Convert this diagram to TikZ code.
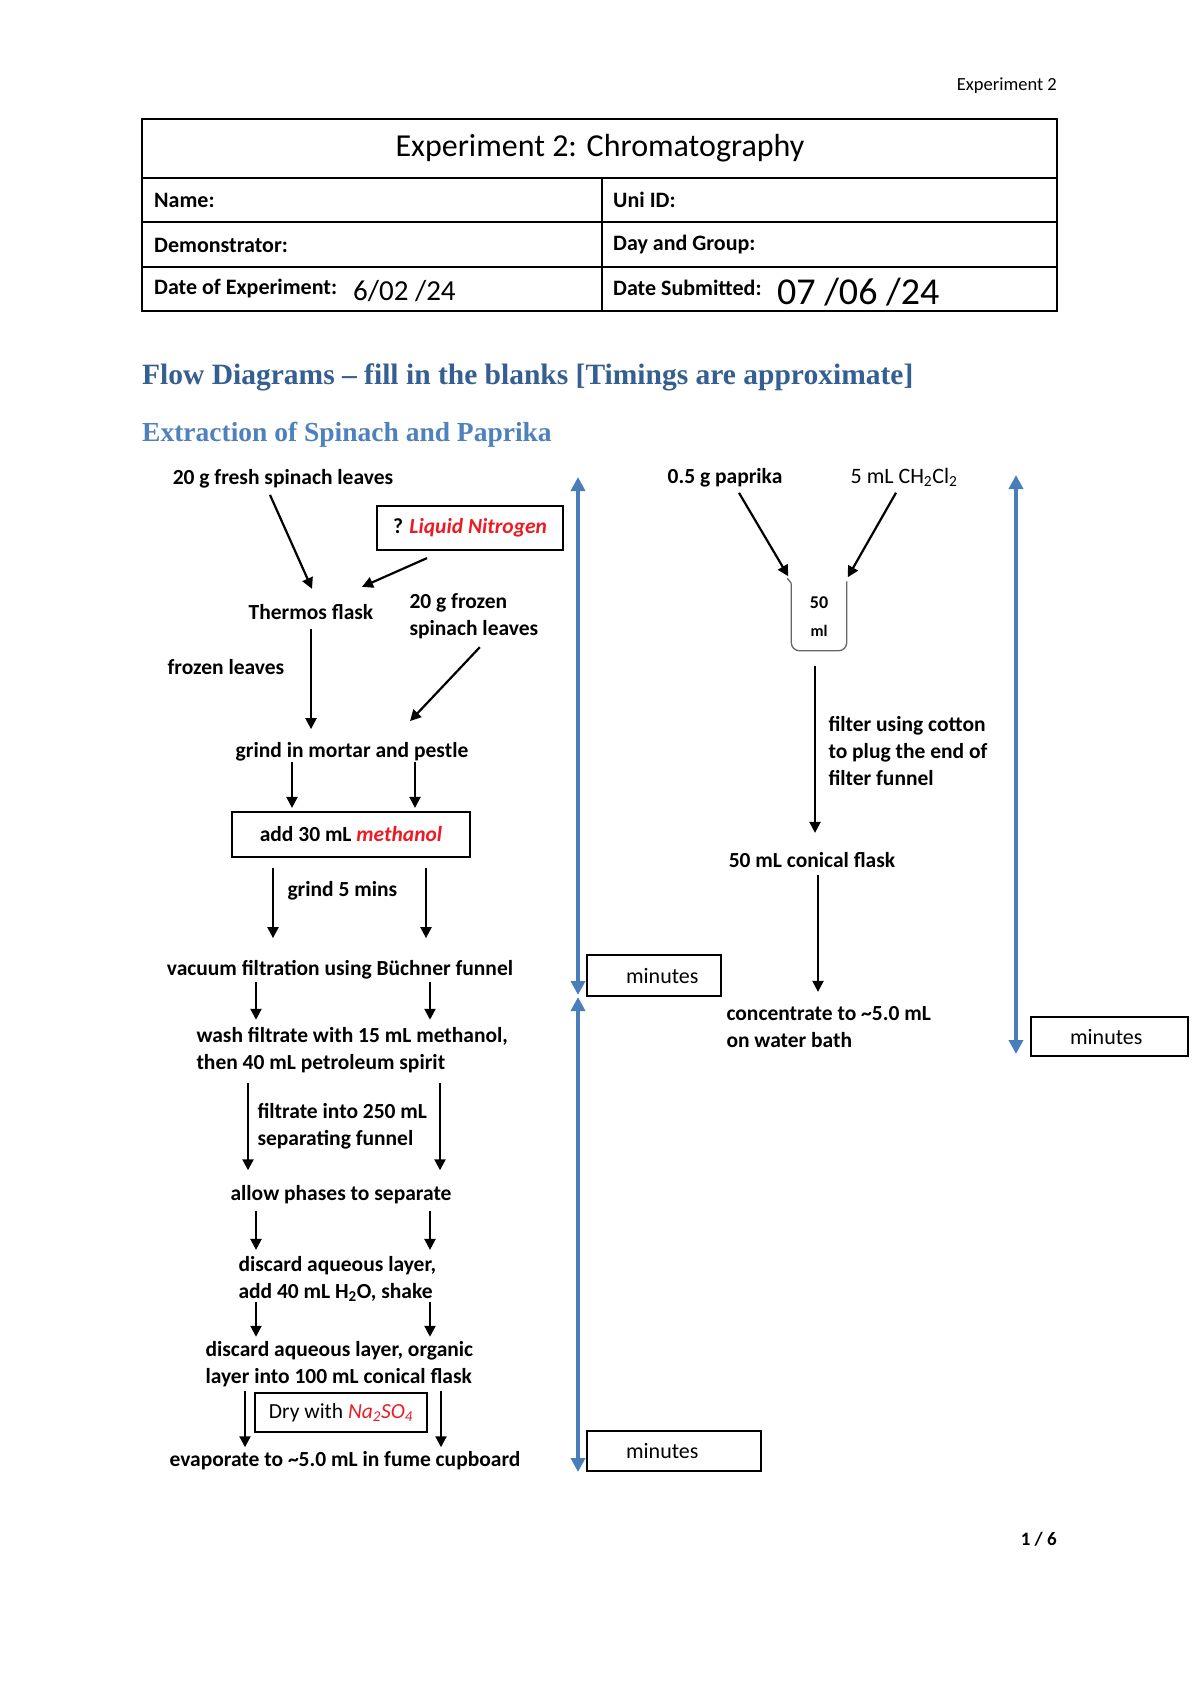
\documentclass[tikz,border=0pt]{standalone}
\usepackage{fontspec}
\setmainfont{Carlito}
\newfontfamily\headfont{Liberation Serif}
\usetikzlibrary{arrows.meta, positioning}

\definecolor{headblue}{RGB}{54,95,145}
\definecolor{subblue}{RGB}{79,129,189}
\definecolor{timeblue}{RGB}{74,126,187}
\definecolor{inkred}{RGB}{237,28,36}
\newcommand{\fsz}[2]{\fontsize{#1}{#2}\selectfont}
\newcommand{\inkword}[1]{{\color{inkred}\itshape #1}}

\begin{document}
\begin{tikzpicture}[x=1pt, y=-1pt,
    flow/.style={font=\fsz{21.5}{27}\bfseries, inner sep=0.3pt, align=center},
    flowl/.style={flow, align=left, anchor=west},
    arr/.style={-{Triangle[length=11pt,width=11pt]}, line width=2.2pt},
    timeline/.style={{Triangle[length=14pt,width=14pt]}-{Triangle[length=14pt,width=14pt]}, line width=4.5pt, draw=timeblue},
    stepbox/.style={draw, line width=2.2pt, inner sep=0pt, font=\fsz{21.5}{25}\bfseries},
    timebox/.style={draw, line width=2.2pt, anchor=west, inner xsep=0pt, align=left, font=\fsz{22}{26}},
    cell/.style={anchor=west, inner sep=0pt, font=\fsz{22}{26}\bfseries}]
    \useasboundingbox[fill=white] (0,0) rectangle (1200,1700);

    % page header and table
    \node[anchor=east, inner sep=0pt, font=\fsz{18.5}{22}] (pghead) at (1057,86) {Experiment 2};
    \draw[line width=2pt] (142,119) rectangle (1057,311);
    \draw[line width=1.2pt] (142,178) -- (1057,178);
    \draw[line width=2.4pt] (142,222) -- (1057,222);
    \draw[line width=1.2pt] (142,267) -- (1057,267);
    \draw[line width=1.2pt] (602,178) -- (602,311);
    \node[inner sep=0pt, font=\fsz{32}{36}] (title) at (600,148) {Experiment 2: Chromatography};
    \node[cell] (name) at (154,200) {Name:};
    \node[cell] (uniid) at (613,200) {Uni ID:};
    \node[cell] (demo) at (154,245) {Demonstrator:};
    \node[cell] (daygrp) at (613,245) {Day and Group:};
    \node[cell] (dateexp) at (154,289) {Date of Experiment:};
    \node[anchor=west, inner sep=0pt, font=\fsz{29}{32}] (dateexpv) at (353,291) {6/02 /24};
    \node[cell] (datesub) at (613,288) {Date Submitted:};
    \node[anchor=west, inner sep=0pt, font=\fsz{38}{40}] (datesubv) at (777,292) {07 /06 /24};

    % headings
    \node[anchor=west, inner sep=0pt, font=\headfont\bfseries\fsz{29.5}{34}, text=headblue] (fdhead) at (142,377) {Flow Diagrams – fill in the blanks [Timings are approximate]};
    \node[anchor=west, inner sep=0pt, font=\headfont\bfseries\fsz{27.5}{32}, text=subblue] (exhead) at (142,435) {Extraction of Spinach and Paprika};

    % spinach flow
    \node[flow] (fresh) at (283,479) {20 g fresh spinach leaves};
    \node[stepbox, minimum width=186pt, minimum height=44pt] (ln2) at (470,528) {? \inkword{Liquid Nitrogen}};
    \node[flow] (thermos) at (311,612) {Thermos flask};
    \node[flowl] (frozen) at (409,616) {20 g frozen\\spinach leaves};
    \node[flow] (frozenlv) at (226,667) {frozen leaves};
    \node[flow] (grind) at (352,752) {grind in mortar and pestle};
    \node[stepbox, minimum width=238pt, minimum height=45pt] (addmeoh) at (351,834.5) {add 30 mL \inkword{methanol}};
    \node[flowl] (grind5) at (287,891) {grind 5 mins};
    \node[flow] (vacuum) at (340,970) {vacuum filtration using Büchner funnel};
    \node[flowl] (wash) at (196,1050) {wash filtrate with 15 mL methanol,\\then 40 mL petroleum spirit};
    \node[flowl] (sepfun) at (257,1126) {filtrate into 250 mL\\separating funnel};
    \node[flow] (allow) at (341,1195) {allow phases to separate};
    \node[flowl] (discard1) at (238,1279) {discard aqueous layer,\\add 40 mL H\textsubscript{2}O, shake};
    \node[flowl] (discard2) at (205,1364) {discard aqueous layer, organic\\layer into 100 mL conical flask};
    \node[stepbox, minimum width=172pt, minimum height=39pt, font=\fsz{21.5}{25}] (dry) at (341,1412.5) {Dry with \inkword{Na\textsubscript{2}SO\textsubscript{4}}};
    \node[flow] (evap) at (345,1461) {evaporate to \textasciitilde 5.0 mL in fume cupboard};

    \draw[arr] ([shift={(-13,6)}]fresh.south) -- ([shift={(1,-15)}]thermos.north);
    \draw[arr] ([shift={(-43,7)}]ln2.south) -- ([shift={(51,-17)}]thermos.north);
    \draw[arr, shorten <=9pt, shorten >=13pt] (thermos.south) -- (thermos.south |- grind.north);
    \draw[arr] ([shift={(6,8)}]frozen.south) -- ([shift={(58,-21)}]grind.north);
    \draw[arr, shorten >=3pt] (grind.south -| 292,0) -- (addmeoh.north -| 292,0);
    \draw[arr, shorten >=3pt] (grind.south -| 415,0) -- (addmeoh.north -| 415,0);
    \draw[arr, shorten <=10pt, shorten >=22pt] (addmeoh.south -| 273,0) -- (vacuum.north -| 273,0);
    \draw[arr, shorten <=10pt, shorten >=22pt] (addmeoh.south -| 426,0) -- (vacuum.north -| 426,0);
    \draw[arr, shorten <=2pt, shorten >=7pt] (vacuum.south -| 256,0) -- (wash.north -| 256,0);
    \draw[arr, shorten <=2pt, shorten >=7pt] (vacuum.south -| 430,0) -- (wash.north -| 430,0);
    \draw[arr, shorten <=10pt, shorten >=15pt] (wash.south -| 248,0) -- (allow.north -| 248,0);
    \draw[arr, shorten <=10pt, shorten >=15pt] (wash.south -| 440,0) -- (allow.north -| 440,0);
    \draw[arr, shorten <=6pt, shorten >=6pt] (allow.south -| 256,0) -- (discard1.north -| 256,0);
    \draw[arr, shorten <=6pt, shorten >=6pt] (allow.south -| 430,0) -- (discard1.north -| 430,0);
    \draw[arr, shorten >=4pt] (discard1.south -| 256,0) -- (discard2.north -| 256,0);
    \draw[arr, shorten >=4pt] (discard1.south -| 430,0) -- (discard2.north -| 430,0);
    \draw[arr, shorten <=4pt, shorten >=4pt] (discard2.south -| 245,0) -- (evap.north -| 245,0);
    \draw[arr, shorten <=4pt, shorten >=4pt] (discard2.south -| 441,0) -- (evap.north -| 441,0);

    % paprika flow
    \node[flow] (paprika) at (725,478) {0.5 g paprika};
    \node[flow, font=\fsz{22}{26}] (dcm) at (904,477) {5 mL CH\textsubscript{2}Cl\textsubscript{2}};
    \node[minimum width=55pt, minimum height=67pt, inner sep=0pt, align=center, font=\fsz{18}{28}\bfseries] (beaker) at (819,617) {50\\{\fsz{16}{16}ml}};
    \draw[line width=1.3pt, draw=black!60] ([shift={(-4,-5)}]beaker.north west) -- (beaker.north west);
    \draw[line width=1.3pt, draw=black!60, rounded corners=8pt] (beaker.north west) -- (beaker.south west) -- (beaker.south east) -- ([yshift=2pt]beaker.north east);
    \node[flowl] (cotton) at (828,751) {filter using cotton\\to plug the end of\\filter funnel};
    \node[flow] (conical) at (812,860) {50 mL conical flask};
    \node[flowl] (conc) at (726,1027) {concentrate to \textasciitilde 5.0 mL\\on water bath};

    \draw[arr] ([shift={(14,5)}]paprika.south) -- ([shift={(-3,-7)}]beaker.north west);
    \draw[arr] ([shift={(-8,6)}]dcm.south) -- ([shift={(1,-6)}]beaker.north east);
    \draw[arr, shorten <=15pt, shorten >=19pt] (beaker.south -| 815,0) -- (conical.north -| 815,0);
    \draw[arr, shorten <=7pt, shorten >=14pt] (conical.south -| 818,0) -- (conc.north -| 818,0);

    % timings
    \coordinate (spinA) at (578,477);
    \coordinate (spinB) at (578,995);
    \coordinate (spinC) at (578,997);
    \coordinate (spinD) at (578,1472);
    \coordinate (papA) at (1016,475);
    \coordinate (papB) at (1016,1054);
    \draw[timeline] (spinA) -- (spinB);
    \draw[timeline] (spinC) -- (spinD);
    \draw[timeline] (papA) -- (papB);
    \node[timebox, text width=134pt, minimum height=41pt] (mins1) at (586,975.5) {\hspace*{39pt}minutes};
    \node[timebox, text width=174pt, minimum height=40pt] (mins2) at (586,1451) {\hspace*{39pt}minutes};
    \node[timebox, text width=157pt, minimum height=39pt] (mins3) at (1030,1036.5) {\hspace*{39pt}minutes};

    \node[anchor=east, inner sep=0pt, font=\fsz{19}{22}\bfseries] (pgnum) at (1057,1539) {1 / 6};
\end{tikzpicture}
\end{document}
